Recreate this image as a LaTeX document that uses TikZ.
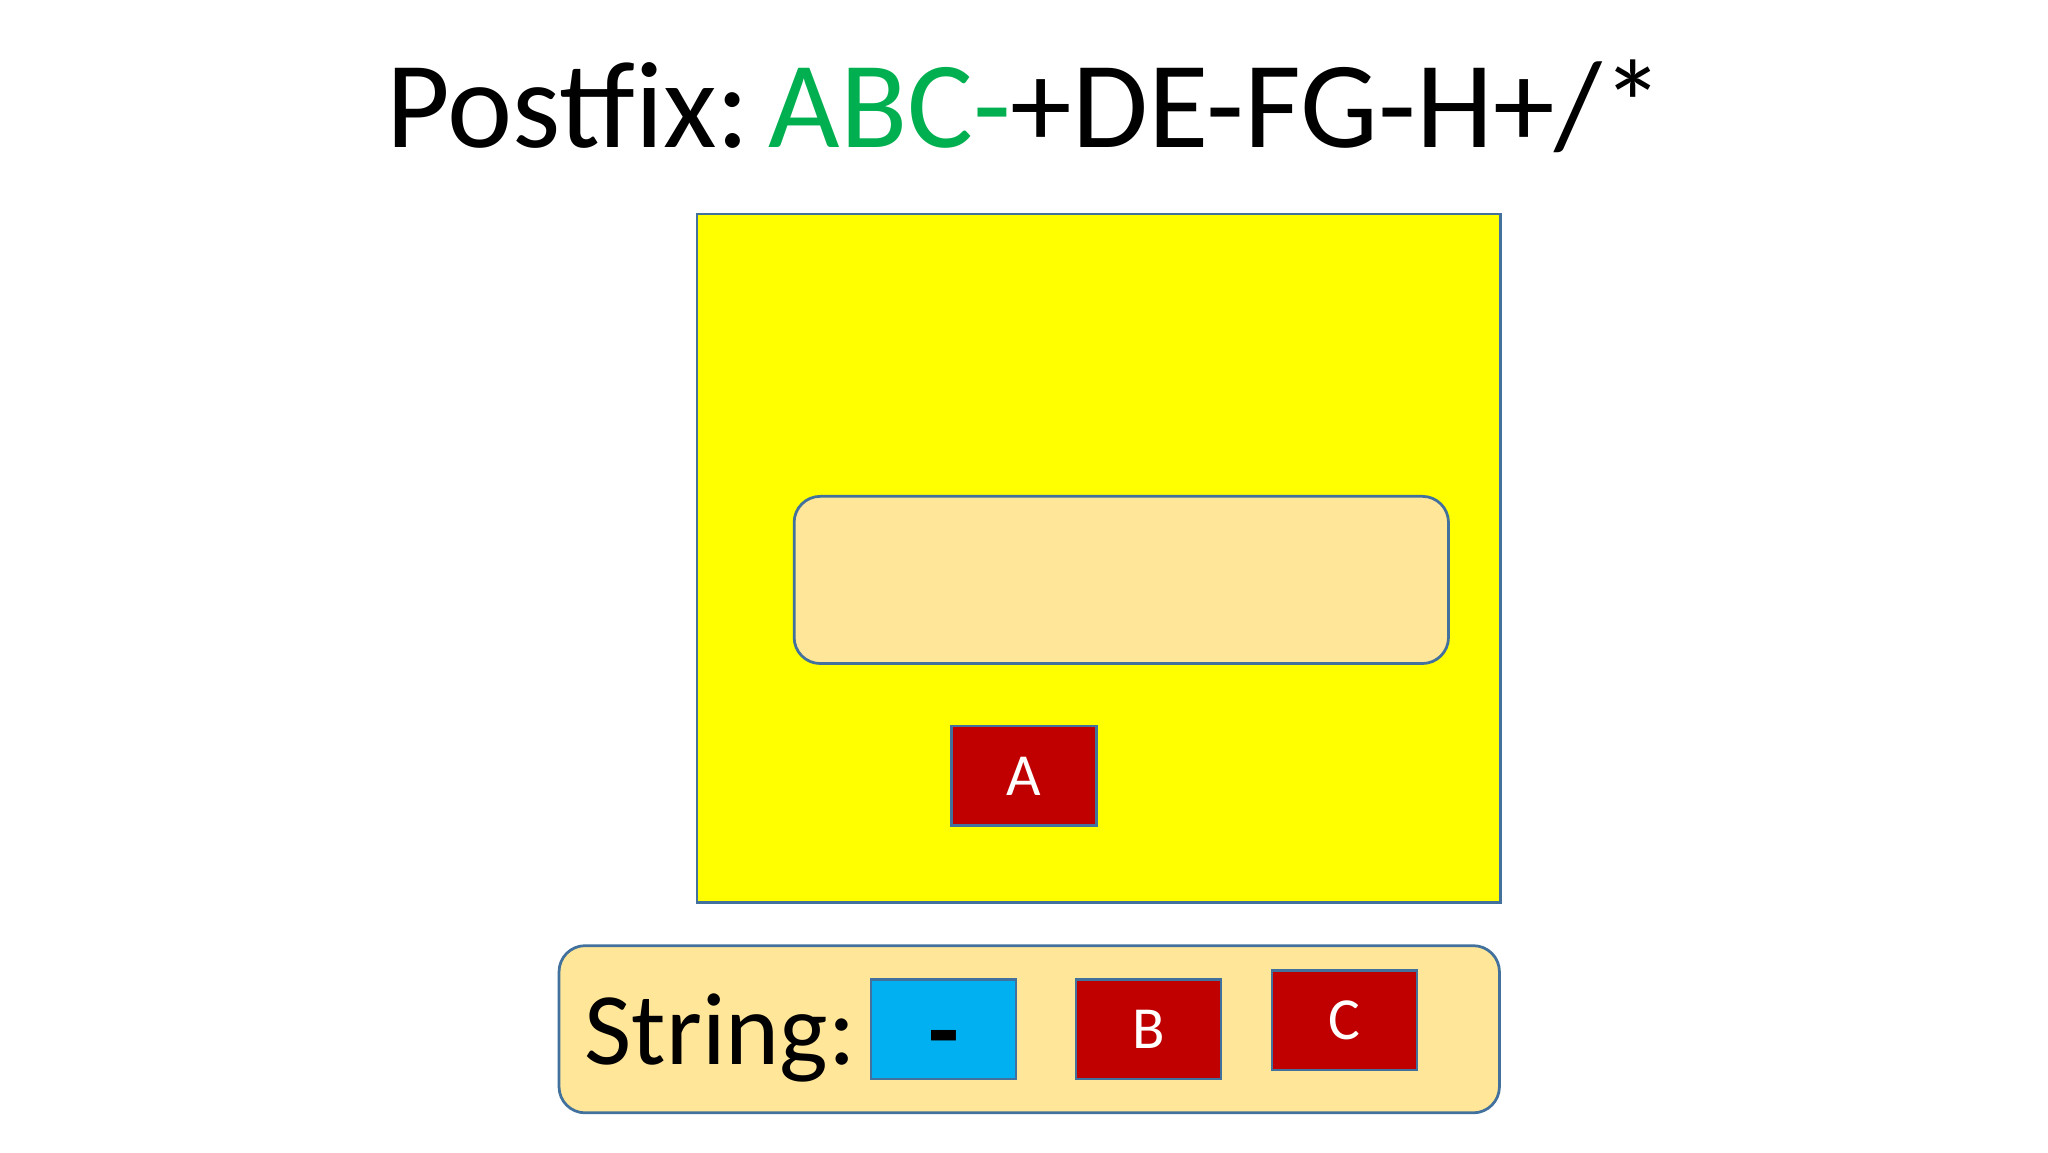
\documentclass[tikz,border=0pt]{standalone}
\usepackage{fontspec}
\setmainfont{Carlito}
\definecolor{edge}{HTML}{41719C}
\definecolor{gold}{HTML}{FFE699}
\definecolor{darkred}{HTML}{C00000}
\definecolor{sky}{HTML}{00B0F0}
\definecolor{pgreen}{HTML}{00B050}
\definecolor{pyellow}{HTML}{FFFF00}
\tikzset{
  box/.style={draw=edge, line width=0.5pt, inner sep=0pt},
  tile/.style={box, minimum width=1.11cm, minimum height=0.76cm, text=white, font=\fontsize{13pt}{15pt}\selectfont},
  panel/.style={draw=edge, line width=0.6pt, fill=gold, rounded corners=0.2cm}
}
\begin{document}
\begin{tikzpicture}
\useasboundingbox[fill=white] (0,0) rectangle (15.68,-8.82);
% title
\node[anchor=base west, inner sep=0pt, font=\fontsize{26.9pt}{30pt}\selectfont] (title) at (2.95,-1.13)
  {Postfix:\hspace{0.15em}\textcolor{pgreen}{ABC-}+DE-FG-H+/*};
% yellow frame
\node[box, fill=pyellow, minimum width=6.15cm, minimum height=5.27cm, anchor=north west] (frame) at (5.33,-1.63) {};
% inner rounded panel
\draw[panel] (6.08,-3.80) rectangle (11.09,-5.08);
\coordinate (inner) at (8.585,-4.44);
% A tile
\node[tile, fill=darkred] (tA) at (7.84,-5.94) {A};
% String panel
\draw[panel] (4.28,-7.24) rectangle (11.48,-8.52);
\node[anchor=base west, inner sep=0pt, font=\fontsize{22.4pt}{26pt}\selectfont] (strlabel) at (4.47,-8.15) {String:};
\node[box, fill=sky, minimum width=1.11cm, minimum height=0.76cm] (tminus) at (7.225,-7.88) {};
\node[inner sep=0pt, font=\fontsize{22pt}{24pt}\selectfont\bfseries] (minus) at (7.225,-8.02) {-};
\node[tile, fill=darkred] (tB) at (8.795,-7.88) {B};
\node[tile, fill=darkred] (tC) at (10.295,-7.81) {C};
\end{tikzpicture}
\end{document}
